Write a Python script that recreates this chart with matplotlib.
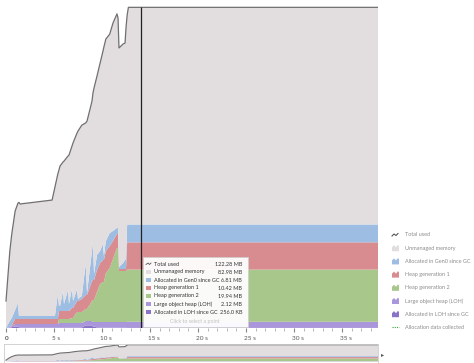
import numpy as np
import matplotlib
matplotlib.use("Agg")
import matplotlib.pyplot as plt
from matplotlib.patches import Rectangle, Polygon
from matplotlib.lines import Line2D
import matplotlib.transforms as mtransforms

plt.rcParams['font.family'] = ['Lato', 'DejaVu Sans']

# time (s) and stacked memory components (MB)
t = [0.0, 0.4, 0.6, 0.95, 1.25, 1.35, 1.46, 4.8, 5.1, 5.4, 5.52, 5.63, 5.94, 6.04,
     6.46, 6.56, 6.88, 6.98, 7.4, 7.5, 7.9, 8.3, 8.44, 8.96, 9.06, 9.17, 9.48, 9.8,
     10.1, 10.2, 10.4, 10.8, 11.15, 11.56, 11.67, 11.77, 12.2, 12.4, 12.5, 12.62,
     12.75, 39.0]
loh_gc = [0, 0.1, 0.3, 0.6, 0.6, 0.3, 0.2, 0.2, 0.2, 0.2, 0.2, 0.2, 0.2, 0.2,
          0.2, 0.2, 0.2, 0.2, 0.2, 0.2, 0.2, 1.0, 1.0, 1.0, 0.6, 0.6, 0.2, 0.2,
          0.2, 0.2, 0.2, 0.2, 0.2, 0.2, 0.2, 0.2, 0.2, 0.2, 0.2, 0.26, 0.26, 0.26]
loh = [0, 0.3, 0.46, 0.93, 0.93, 1.23, 1.33, 1.33, 1.33, 1.33, 1.71, 1.71, 1.71, 1.71,
       1.71, 1.71, 1.71, 1.71, 1.71, 1.71, 1.71, 1.67, 1.67, 1.67, 1.69, 1.69, 2.09, 2.09,
       2.09, 2.09, 2.09, 2.09, 2.09, 2.09, 2.09, 2.09, 2.09, 2.09, 2.09, 2.12, 2.12, 2.12]
gen2 = [0, 0, 0, 0, 0, 0, 0, 0, 0, 0, 1.53, 1.53, 1.53, 1.53,
        1.53, 1.53, 1.91, 1.91, 4.2, 4.2, 4.2, 4.59, 4.59, 7.64, 8.41, 8.41, 11.46, 14.5,
        15.3, 15.3, 18.7, 20.6, 24.1, 28.3, 28.3, 19.5, 19.5, 19.5, 19.5, 19.94, 19.94, 19.94]
gen1 = [0, 0, 0.38, 1.91, 1.91, 1.91, 1.91, 1.91, 1.91, 1.91, 3.06, 3.06, 3.06, 3.06,
        3.06, 3.06, 3.82, 3.82, 4.2, 4.2, 4.97, 5.35, 5.35, 7.64, 7.64, 7.64, 8.41, 8.02,
        8.41, 8.41, 8.41, 8.41, 6.88, 5.35, 5.35, 0.76, 0.76, 0.76, 0.76, 10.42, 10.42, 10.42]
gen0 = [0, 2.29, 2.67, 3.44, 6.11, 1.15, 1.15, 1.15, 1.15, 9.55, 1.91, 1.91, 7.64, 2.67,
        8.02, 2.67, 7.64, 2.67, 4.59, 0.76, 1.15, 11.85, 0.76, 11.46, 14.9, 2.29, 5.73, 4.59,
        6.11, 1.53, 3.82, 4.97, 3.82, 2.29, 2.29, 0.76, 2.29, 3.44, 3.82, 6.81, 6.81, 6.81]
unmanaged = [10.3, 26.7, 32.1, 37.8, 38.2, 43.4, 42.8, 44.3, 49.3, 45.9, 52.0, 53.5, 49.3, 54.6,
             51.2, 56.9, 54.3, 60.4, 59.6, 64.2, 65.3, 53.9, 65.7, 57.3, 56.6, 71.1, 68.4, 71.8,
             73.7, 79.9, 77.2, 76.0, 79.5, 81.8, 80.2, 83.7, 83.7, 82.9, 88.3, 80.0, 82.98, 82.98]

tooltip_rows = [("Total used", "122.28 MB"), ("Unmanaged memory", "82.98 MB"),
                ("Allocated in Gen0 since GC", "6.81 MB"), ("Heap generation 1", "10.42 MB"),
                ("Heap generation 2", "19.94 MB"), ("Large object heap (LOH)", "2.12 MB"),
                ("Allocated in LOH since GC", "256.0 KB")]
legend_labels = ["Total used", "Unmanaged memory", "Allocated in Gen0 since GC",
                 "Heap generation 1", "Heap generation 2", "Large object heap (LOH)",
                 "Allocated in LOH since GC", "Allocation data collected"]
cursor_t = 14.06

c_unm = "#e2dedf"
c_gen0 = "#9ebde2"
c_gen1 = "#d88c8f"
c_gen2 = "#a8c78b"
c_loh = "#a996db"
c_lohgc = "#8a74c8"
c_line = "#707070"
colors = [c_lohgc, c_loh, c_gen2, c_gen1, c_gen0, c_unm]

W, H = 474, 363
fig = plt.figure(figsize=(W / 100, H / 100), dpi=100)

def fx(x):
    return x / W

def fy(y):
    return 1 - y / H

px_per_s = 9.6
px_per_mb = 2.617
ax = fig.add_axes([fx(4), fy(328), (378 - 4) / W, 328 / H])
series = [loh_gc, loh, gen2, gen1, gen0, unmanaged]
ax.stackplot(t, *series, colors=colors, linewidth=0)
total = np.sum(np.array(series), axis=0)
ax.plot(t, total, color=c_line, lw=0.9)
ax.set_xlim(-2 / px_per_s, 372 / px_per_s)
ax.set_ylim(0, 328 / px_per_mb)
ax.vlines(cursor_t, 0, total[-1], color="#222222", lw=0.9)
for s in ax.spines.values():
    s.set_visible(False)
ax.set_yticks([])
ax.set_xticks(np.arange(0, 39, 5))
ax.set_xticks(np.arange(0, 39, 1), minor=True)
ax.set_xticklabels(["0"] + ["%d s" % v for v in range(5, 39, 5)])
ax.tick_params(axis="x", which="major", length=3, width=0.8, color="#888888",
               labelsize=4.6, labelcolor="#555555", pad=3)
ax.tick_params(axis="x", which="minor", length=2, width=0.6, color="#aaaaaa")
offset = mtransforms.ScaledTranslation(-1.5 / 100, 0, fig.dpi_scale_trans)
for lab in ax.get_xticklabels():
    lab.set_horizontalalignment("left")
    lab.set_transform(lab.get_transform() + offset)
ax.get_xticklabels()[0].set_fontweight("bold")

# overview strip
ov = fig.add_axes([fx(4), fy(363), (378 - 4) / W, 19 / H])
ov.stackplot(t, *series, colors=colors, linewidth=0)
ov.plot(t, total, color=c_line, lw=0.8)
ov.set_xlim(-2 / px_per_s, 372 / px_per_s)
ov.set_ylim(-10.5, 128)
ov.set_xticks([])
ov.set_yticks([])
for s in ov.spines.values():
    s.set_color("#cccccc")
    s.set_linewidth(0.6)
fig.text(fx(381), fy(355), "▸", fontsize=4.5, color="#555555", va="center",
         family="DejaVu Sans")

# tooltip
tip = Rectangle((fx(143), fy(327)), (248 - 143) / W, (327 - 257) / H,
                transform=fig.transFigure, facecolor="white", edgecolor="#cfcfcf",
                lw=0.6, alpha=0.95, zorder=5)
fig.patches.append(tip)
tip_colors = [None, c_unm, c_gen0, c_gen1, c_gen2, c_loh, c_lohgc]
for i, (lab, val) in enumerate(tooltip_rows):
    y = 264 + i * 8.0
    if tip_colors[i] is None:
        fig.lines.append(Line2D([fx(146), fx(148), fx(149.5), fx(151)],
                                [fy(y + 0.5), fy(y - 1), fy(y + 0.5), fy(y - 1)],
                                transform=fig.transFigure, color="#555555", lw=0.6, zorder=6))
    else:
        fig.patches.append(Rectangle((fx(146), fy(y + 2)), 5 / W, 4 / H,
                                     transform=fig.transFigure, facecolor=tip_colors[i],
                                     edgecolor="none", zorder=6))
    fig.text(fx(153.5), fy(y), lab, fontsize=4.0, color="#333333", va="center", zorder=7)
    fig.text(fx(242), fy(y), val, fontsize=4.0, color="#333333", va="center", ha="right",
             zorder=7)
fig.text(fx(195), fy(321.5), "Click to select a point", fontsize=3.8, color="#c0c0c0",
         va="center", ha="center", zorder=7)

# legend
leg_colors = [None, c_unm, c_gen0, c_gen1, c_gen2, c_loh, c_lohgc, "green"]
for i, lab in enumerate(legend_labels):
    y = 235 + i * 13.2
    col = leg_colors[i]
    if col is None:
        fig.lines.append(Line2D([fx(392), fx(394), fx(396), fx(398)],
                                [fy(y + 1), fy(y - 1), fy(y + 0.5), fy(y - 1.5)],
                                transform=fig.transFigure, color="#555555", lw=0.8))
    elif col == "green":
        fig.lines.append(Line2D([fx(392), fx(399)], [fy(y), fy(y)],
                                transform=fig.transFigure, color="#3aa03a", lw=0.8,
                                ls=(0, (1, 1))))
    else:
        xs = [392, 392, 394, 396, 398, 399, 399]
        ys = [y + 3, y - 1, y - 3, y - 1, y - 3.5, y - 2, y + 3]
        fig.patches.append(Polygon([(fx(a), fy(b)) for a, b in zip(xs, ys)], closed=True,
                                   transform=fig.transFigure, facecolor=col,
                                   edgecolor="none"))
    fig.text(fx(405), fy(y), lab, fontsize=4.0, color="#8c8c8c", va="center")

fig.savefig("out.png", dpi=100)
